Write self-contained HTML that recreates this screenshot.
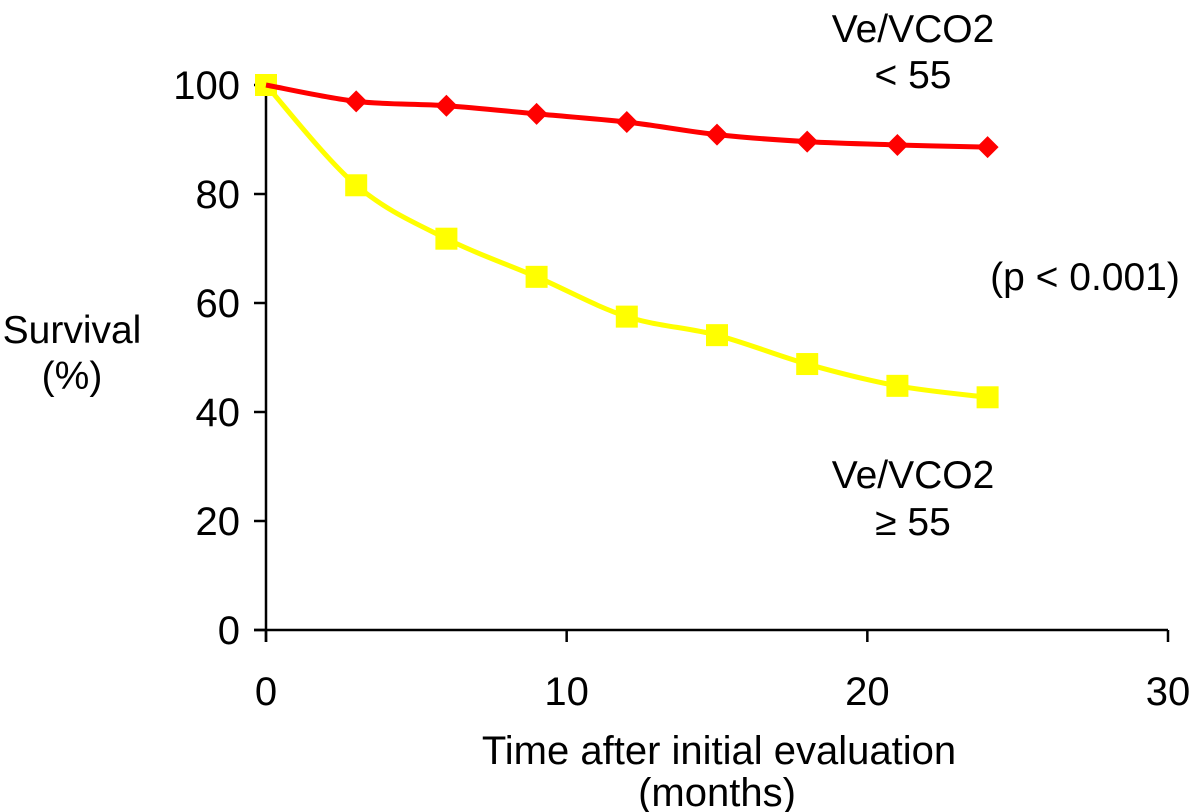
<!DOCTYPE html>
<html><head><meta charset="utf-8"><style>
body{margin:0;background:#fff;}
svg{display:block;font-family:"Liberation Sans",Arial,sans-serif;}
</style></head><body>
<svg id="chart" width="1200" height="812" viewBox="0 0 1200 812">
<g id="axes"></g>
<g id="series"></g>
<text x="72" y="343" font-size="39" text-anchor="middle">Survival</text>
<text x="72" y="389" font-size="39" text-anchor="middle">(%)</text>
<text x="719" y="764" font-size="40" text-anchor="middle">Time after initial evaluation</text>
<text x="717" y="806" font-size="40" text-anchor="middle">(months)</text>
<text x="913" y="42" font-size="39" text-anchor="middle">Ve/VCO2</text>
<text x="913" y="88" font-size="39" text-anchor="middle">&lt; 55</text>
<text x="1085" y="290" font-size="39" text-anchor="middle">(p &lt; 0.001)</text>
<text x="913" y="488" font-size="39" text-anchor="middle">Ve/VCO2</text>
<text x="913" y="535" font-size="39" text-anchor="middle">≥ 55</text>
</svg>
<script>
const months=[0,3,6,9,12,15,18,21,24];
const lowSeries=[100,97,96.2,94.7,93.2,90.9,89.6,89,88.6];
const highSeries=[100,81.6,71.8,64.8,57.5,54.1,48.8,44.8,42.7];
const xTicks=[0,10,20,30];
const yTicks=[0,20,40,60,80,100];
const NS="http://www.w3.org/2000/svg";
const X0=266,X1=1168,Y0=630,Y1=85;
const xs=v=>X0+(v/30)*(X1-X0);
const ys=v=>Y0-(v/100)*(Y0-Y1);
function mk(tag,attrs,parent){const e=document.createElementNS(NS,tag);for(const k in attrs)e.setAttribute(k,attrs[k]);parent.appendChild(e);return e;}
const ax=document.getElementById('axes');
let l=mk('line',{x1:X0,y1:Y1,x2:X0,y2:Y0+12,stroke:'#000','stroke-width':2.5},ax);


l=mk('line',{x1:X0-12,y1:Y0,x2:X1,y2:Y0,stroke:'#000','stroke-width':2.5},ax);


yTicks.forEach(v=>{
 const t=mk('line',{x1:X0-12,y1:ys(v),x2:X0,y2:ys(v),stroke:'#000','stroke-width':2.5},ax);
 
 
 const tx=mk('text',{x:X0-26,y:ys(v)+14,'font-size':40,'text-anchor':'end'},ax);tx.textContent=v;
 
 
});
xTicks.forEach(v=>{
 const t=mk('line',{x1:xs(v),y1:Y0,x2:xs(v),y2:Y0+12,stroke:'#000','stroke-width':2.5},ax);
 
 
 const tx=mk('text',{x:xs(v),y:Y0+75,'font-size':40,'text-anchor':'middle'},ax);tx.textContent=v;
 
 
});
function smooth(pts){
 let d=`M${pts[0][0]},${pts[0][1]}`;
 for(let i=0;i<pts.length-1;i++){
  const p0=pts[i-1]||pts[i],p1=pts[i],p2=pts[i+1],p3=pts[i+2]||p2;
  const c1=[p1[0]+(p2[0]-p0[0])/6,p1[1]+(p2[1]-p0[1])/6];
  const c2=[p2[0]-(p3[0]-p1[0])/6,p2[1]-(p3[1]-p1[1])/6];
  d+=` C${c1[0]},${c1[1]} ${c2[0]},${c2[1]} ${p2[0]},${p2[1]}`;
 }
 return d;
}
const sg=document.getElementById('series');
const hp=months.map((m,i)=>[xs(m),ys(highSeries[i])]);
const lp=months.map((m,i)=>[xs(m),ys(lowSeries[i])]);
let p=mk('path',{d:smooth(hp),fill:'none',stroke:'#ffff00','stroke-width':5},sg);


hp.forEach(q=>{const r=mk('rect',{x:q[0]-11,y:q[1]-11,width:22,height:22,fill:'#ffff00'},sg);
 
 });
p=mk('path',{d:smooth(lp),fill:'none',stroke:'#ff0000','stroke-width':5},sg);


lp.forEach((q,i)=>{if(i===0)return;const r=mk('polygon',{points:`${q[0]},${q[1]-11} ${q[0]+11},${q[1]} ${q[0]},${q[1]+11} ${q[0]-11},${q[1]}`,fill:'#ff0000'},sg);
 
 });
</script>
</body></html>
